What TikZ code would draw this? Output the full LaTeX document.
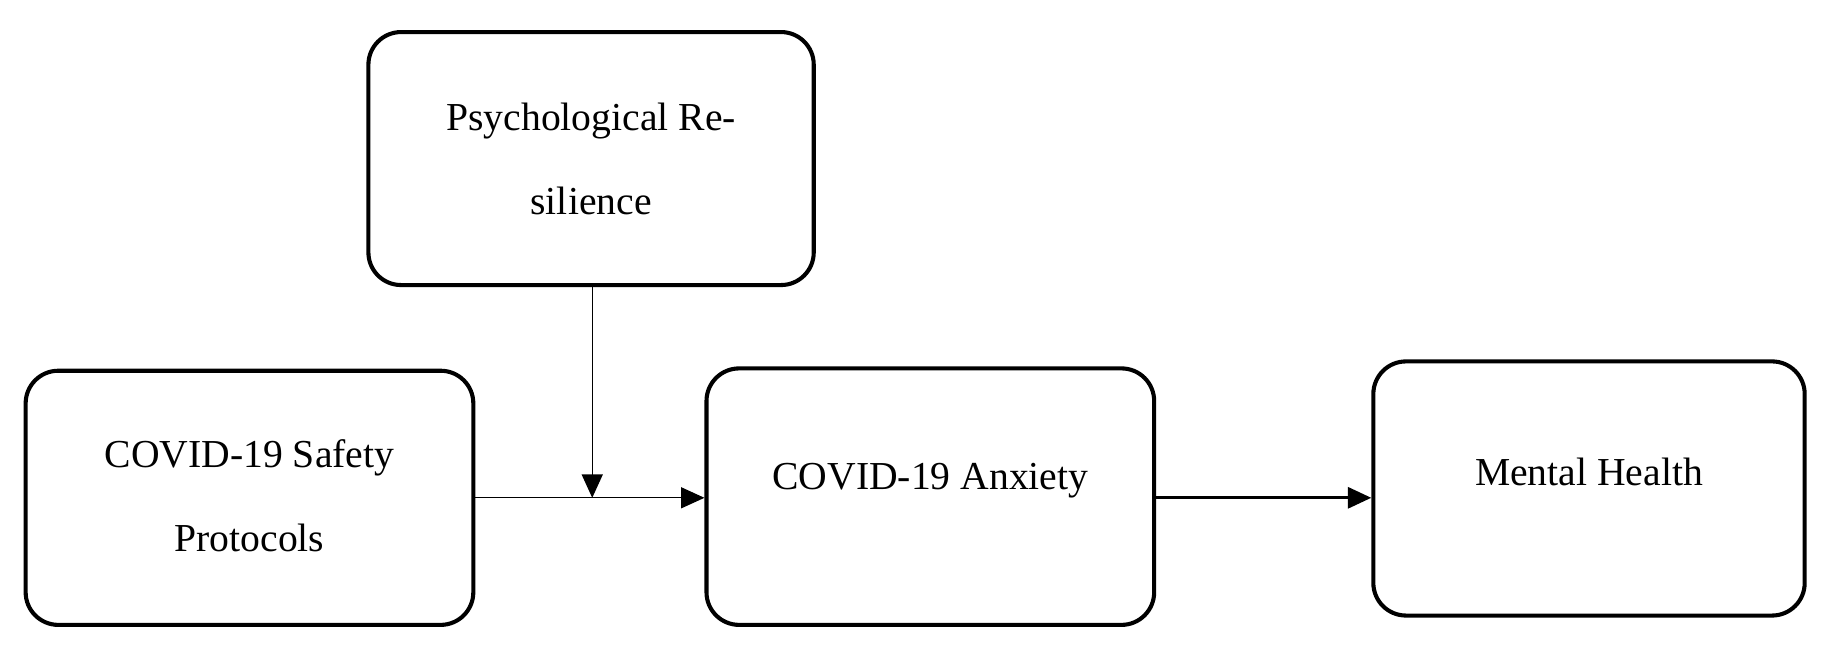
\documentclass[tikz,border=0pt]{standalone}
\usepackage{fontspec}
\setmainfont{Liberation Serif}
\usetikzlibrary{arrows.meta}
\begin{document}
\begin{tikzpicture}[x=1pt,y=-1pt,
 box/.style={draw,line width=3.5pt,rounded corners=28pt,inner sep=0pt},
 txt/.style={align=center,inner sep=0pt,font=\fontsize{34}{72}\selectfont},
 arr/.style={-{Triangle[length=20pt,width=18pt]}}]
\useasboundingbox (0,0) rectangle (1568,562);
\node[box,minimum width=382pt,minimum height=217pt] (psy) at (507,136) {};
\node[box,minimum width=384pt,minimum height=218pt] (saf) at (214,427) {};
\node[box,minimum width=384pt,minimum height=220pt] (anx) at (798,426) {};
\node[box,minimum width=370pt,minimum height=218pt] (men) at (1363,419) {};
\node[txt] (psyt) at (507,136) {Psychological Re-\\silience};
\node[txt] (saft) at (214,425) {COVID-19 Safety\\Protocols};
\node[txt] (anxt) at (798,412) {COVID-19 Anxiety};
\node[txt] (ment) at (1363,405) {Mental Health};
\coordinate (m) at (508,427);
\draw[arr,line width=1pt] (saf.east|-0,427) -- (anx.west|-0,427);
\draw[arr,line width=1pt] (psy.south-|m) -- (m);
\draw[arr,line width=2.5pt] (anx.east|-0,427) -- (men.west|-0,427);
\end{tikzpicture}
\end{document}
